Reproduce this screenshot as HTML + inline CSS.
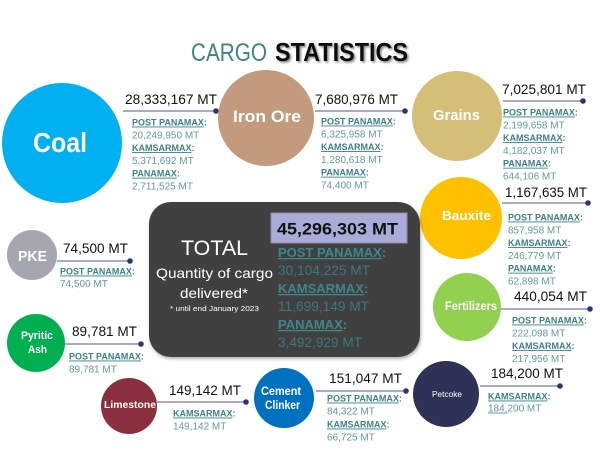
<!DOCTYPE html>
<html><head><meta charset="utf-8"><style>
html,body{margin:0;padding:0;background:#fff;}
svg{display:block;}
text{font-family:"Liberation Sans",Arial,sans-serif;}
.v{font-size:14px;fill:#111;}
.l{font-size:9px;font-weight:bold;fill:#3c8286;}
.n{font-size:10px;fill:#5f9c9f;}
.c{fill:#fff;font-weight:bold;}
.tl{font-size:13px;font-weight:bold;fill:#3d878b;}
.tn{font-size:13.5px;fill:#3a7a7e;}
</style></head><body>
<svg width="600" height="450" viewBox="0 0 600 450" xmlns="http://www.w3.org/2000/svg">
<defs>
<filter id="sh" x="-10%" y="-30%" width="130%" height="180%"><feDropShadow dx="1.5" dy="1.5" stdDeviation="1" flood-color="#666" flood-opacity="0.8"/></filter>
<filter id="bs" x="-10%" y="-10%" width="130%" height="130%"><feDropShadow dx="1" dy="2" stdDeviation="1.5" flood-color="#000" flood-opacity="0.3"/></filter>
</defs>
<rect width="600" height="450" fill="#fff"/>

<!-- Title -->
<text x="191" y="61" font-size="25" fill="#3f8383" textLength="76" lengthAdjust="spacingAndGlyphs">CARGO</text>
<text x="275" y="61" font-size="25.5" font-weight="bold" fill="#111" textLength="133" lengthAdjust="spacingAndGlyphs" filter="url(#sh)">STATISTICS</text>

<!-- lines -->
<g stroke="#8a8db5" stroke-width="1.5">
<line x1="123" y1="111" x2="216" y2="111"/>
<line x1="315" y1="111" x2="405" y2="111"/>
<line x1="503" y1="101" x2="583" y2="101"/>
<line x1="502" y1="203" x2="588" y2="203"/>
<line x1="500" y1="309" x2="590" y2="309"/>
<line x1="57" y1="261" x2="130" y2="261"/>
<line x1="64" y1="344" x2="141" y2="344"/>
<line x1="157" y1="402" x2="246" y2="402"/>
<line x1="316" y1="391" x2="406" y2="391"/>
<line x1="480" y1="386" x2="560" y2="386"/>
</g>
<g fill="#2f3570">
<circle cx="216" cy="111" r="2.8"/>
<circle cx="405" cy="111" r="2.8"/>
<circle cx="583" cy="101" r="2.8"/>
<circle cx="588" cy="203" r="2.8"/>
<circle cx="590" cy="309" r="2.8"/>
<circle cx="130" cy="261" r="2.8"/>
<circle cx="141" cy="344" r="2.8"/>
<circle cx="246" cy="402" r="2.8"/>
<circle cx="406" cy="391" r="2.8"/>
<circle cx="560" cy="386" r="2.8"/>
</g>

<!-- circles -->
<circle cx="62" cy="143" r="60" fill="#00b0f0"/>
<circle cx="266" cy="118" r="48" fill="#c49a7e"/>
<circle cx="457" cy="116" r="45" fill="#d4be78"/>
<circle cx="461" cy="218" r="41" fill="#ffc000"/>
<circle cx="467" cy="307" r="34" fill="#92d050"/>
<circle cx="32" cy="255" r="25" fill="#a5a6b0"/>
<circle cx="36" cy="343" r="29" fill="#00b050"/>
<circle cx="129" cy="406" r="28" fill="#8b2e3d"/>
<circle cx="284" cy="398" r="30" fill="#0070c0"/>
<circle cx="446" cy="394" r="33" fill="#2e3257"/>

<!-- circle labels -->
<text class="c" x="33" y="152" font-size="28" textLength="54" lengthAdjust="spacingAndGlyphs">Coal</text>
<text class="c" x="233" y="122" font-size="17" textLength="68" lengthAdjust="spacingAndGlyphs">Iron Ore</text>
<text class="c" x="433" y="120" font-size="15" textLength="47" lengthAdjust="spacingAndGlyphs">Grains</text>
<text class="c" x="442" y="220" font-size="12.5" textLength="49" lengthAdjust="spacingAndGlyphs">Bauxite</text>
<text class="c" x="445" y="310" font-size="11.5" textLength="52" lengthAdjust="spacingAndGlyphs">Fertilizers</text>
<text class="c" x="18" y="261" font-size="15" textLength="29" lengthAdjust="spacingAndGlyphs">PKE</text>
<text class="c" x="21" y="339" font-size="11" textLength="32" lengthAdjust="spacingAndGlyphs">Pyritic</text>
<text class="c" x="28" y="353" font-size="11" textLength="19" lengthAdjust="spacingAndGlyphs">Ash</text>
<text class="c" x="104" y="408" font-size="10.5" textLength="52" lengthAdjust="spacingAndGlyphs">Limestone</text>
<text class="c" x="261" y="395" font-size="12" textLength="40" lengthAdjust="spacingAndGlyphs">Cement</text>
<text class="c" x="265" y="409" font-size="12" textLength="35" lengthAdjust="spacingAndGlyphs">Clinker</text>
<text x="432" y="397" font-size="8.5" fill="#fff" textLength="30" lengthAdjust="spacingAndGlyphs">Petcoke</text>

<!-- values -->
<text class="v" x="125" y="104" textLength="92" lengthAdjust="spacingAndGlyphs">28,333,167 MT</text>
<text class="v" x="315" y="104" textLength="83" lengthAdjust="spacingAndGlyphs">7,680,976 MT</text>
<text class="v" x="502" y="94" textLength="84" lengthAdjust="spacingAndGlyphs">7,025,801 MT</text>
<text class="v" x="505" y="197" textLength="82" lengthAdjust="spacingAndGlyphs">1,167,635 MT</text>
<text class="v" x="514" y="301" textLength="73" lengthAdjust="spacingAndGlyphs">440,054 MT</text>
<text class="v" x="63" y="253" textLength="65" lengthAdjust="spacingAndGlyphs">74,500 MT</text>
<text class="v" x="72" y="336" textLength="65" lengthAdjust="spacingAndGlyphs">89,781 MT</text>
<text class="v" x="169" y="395" textLength="72" lengthAdjust="spacingAndGlyphs">149,142 MT</text>
<text class="v" x="329" y="383" textLength="73" lengthAdjust="spacingAndGlyphs">151,047 MT</text>
<text class="v" x="491" y="378" textLength="72" lengthAdjust="spacingAndGlyphs">184,200 MT</text>

<!-- Coal sub -->
<text class="l" x="132" y="125.5"><tspan text-decoration="underline">POST PANAMAX</tspan>:</text>
<text class="n" x="132" y="138.3">20,249,950 MT</text>
<text class="l" x="132" y="151.1"><tspan text-decoration="underline">KAMSARMAX</tspan>:</text>
<text class="n" x="132" y="163.9">5,371,692 MT</text>
<text class="l" x="132" y="176.7"><tspan text-decoration="underline">PANAMAX</tspan>:</text>
<text class="n" x="132" y="189.5">2,711,525 MT</text>

<!-- Iron Ore sub -->
<text class="l" x="321" y="124.5"><tspan text-decoration="underline">POST PANAMAX</tspan>:</text>
<text class="n" x="321" y="137.3">6,325,958 MT</text>
<text class="l" x="321" y="150.1"><tspan text-decoration="underline">KAMSARMAX</tspan>:</text>
<text class="n" x="321" y="162.9">1,280,618 MT</text>
<text class="l" x="321" y="175.7"><tspan text-decoration="underline">PANAMAX</tspan>:</text>
<text class="n" x="321" y="188.5">74,400 MT</text>

<!-- Grains sub -->
<text class="l" x="503" y="115.5"><tspan text-decoration="underline">POST PANAMAX</tspan>:</text>
<text class="n" x="503" y="128.3">2,199,658 MT</text>
<text class="l" x="503" y="141.1"><tspan text-decoration="underline">KAMSARMAX</tspan>:</text>
<text class="n" x="503" y="153.9">4,182,037 MT</text>
<text class="l" x="503" y="166.7"><tspan text-decoration="underline">PANAMAX</tspan>:</text>
<text class="n" x="503" y="179.5">644,106 MT</text>

<!-- Bauxite sub -->
<text class="l" x="508" y="220.5"><tspan text-decoration="underline">POST PANAMAX</tspan>:</text>
<text class="n" x="508" y="233.3">857,958 MT</text>
<text class="l" x="508" y="246.1"><tspan text-decoration="underline">KAMSARMAX</tspan>:</text>
<text class="n" x="508" y="258.9">246,779 MT</text>
<text class="l" x="508" y="271.7"><tspan text-decoration="underline">PANAMAX</tspan>:</text>
<text class="n" x="508" y="284.5">62,898 MT</text>

<!-- Fertilizers sub -->
<text class="l" x="512" y="323.5"><tspan text-decoration="underline">POST PANAMAX</tspan>:</text>
<text class="n" x="512" y="336.3">222,098 MT</text>
<text class="l" x="512" y="349.1"><tspan text-decoration="underline">KAMSARMAX</tspan>:</text>
<text class="n" x="512" y="361.9">217,956 MT</text>

<!-- PKE sub -->
<text class="l" x="60" y="274.5"><tspan text-decoration="underline">POST PANAMAX</tspan>:</text>
<text class="n" x="60" y="287">74,500 MT</text>

<!-- Pyritic sub -->
<text class="l" x="69" y="359.5"><tspan text-decoration="underline">POST PANAMAX</tspan>:</text>
<text class="n" x="69" y="372.5">89,781 MT</text>

<!-- Limestone sub -->
<text class="l" x="173" y="416.5"><tspan text-decoration="underline">KAMSARMAX</tspan>:</text>
<text class="n" x="173" y="429.5">149,142 MT</text>

<!-- Cement sub -->
<text class="l" x="327" y="401.5"><tspan text-decoration="underline">POST PANAMAX</tspan>:</text>
<text class="n" x="327" y="414.5">84,322 MT</text>
<text class="l" x="327" y="427.5"><tspan text-decoration="underline">KAMSARMAX</tspan>:</text>
<text class="n" x="327" y="440.5">66,725 MT</text>

<!-- Petcoke sub -->
<text class="l" x="488" y="399.5"><tspan text-decoration="underline">KAMSARMAX</tspan>:</text>
<text class="n" x="488" y="411.5"><tspan text-decoration="underline">184,</tspan>200 MT</text>

<!-- Total box -->
<rect x="149" y="202" width="271" height="155" rx="22" ry="22" fill="#3f3f3f" filter="url(#bs)"/>
<text x="181" y="255" font-size="21" fill="#fff" textLength="67" lengthAdjust="spacingAndGlyphs">TOTAL</text>
<text x="156" y="278" font-size="14" fill="#fff" textLength="117" lengthAdjust="spacingAndGlyphs">Quantity of cargo</text>
<text x="180" y="298" font-size="14" fill="#fff" textLength="68" lengthAdjust="spacingAndGlyphs">delivered*</text>
<text x="170" y="311" font-size="7.5" fill="#fff" textLength="89" lengthAdjust="spacingAndGlyphs">* until end January 2023</text>

<rect x="271" y="213" width="136" height="30" fill="#a9acd8" stroke="#8c8c9c" stroke-width="1"/>
<text x="277" y="234.5" font-size="16.5" font-weight="bold" fill="#111" textLength="121" lengthAdjust="spacingAndGlyphs">45,296,303 MT</text>

<text class="tl" x="278" y="257"><tspan text-decoration="underline">POST PANAMAX</tspan>:</text>
<text class="tn" x="278" y="275" textLength="92" lengthAdjust="spacingAndGlyphs">30,104,225 MT</text>
<text class="tl" x="278" y="293"><tspan text-decoration="underline">KAMSARMAX</tspan>:</text>
<text class="tn" x="278" y="311" textLength="91" lengthAdjust="spacingAndGlyphs">11,699,149 MT</text>
<text class="tl" x="278" y="329"><tspan text-decoration="underline">PANAMAX</tspan>:</text>
<text class="tn" x="278" y="347" textLength="84" lengthAdjust="spacingAndGlyphs">3,492,929 MT</text>
</svg>
</body></html>
